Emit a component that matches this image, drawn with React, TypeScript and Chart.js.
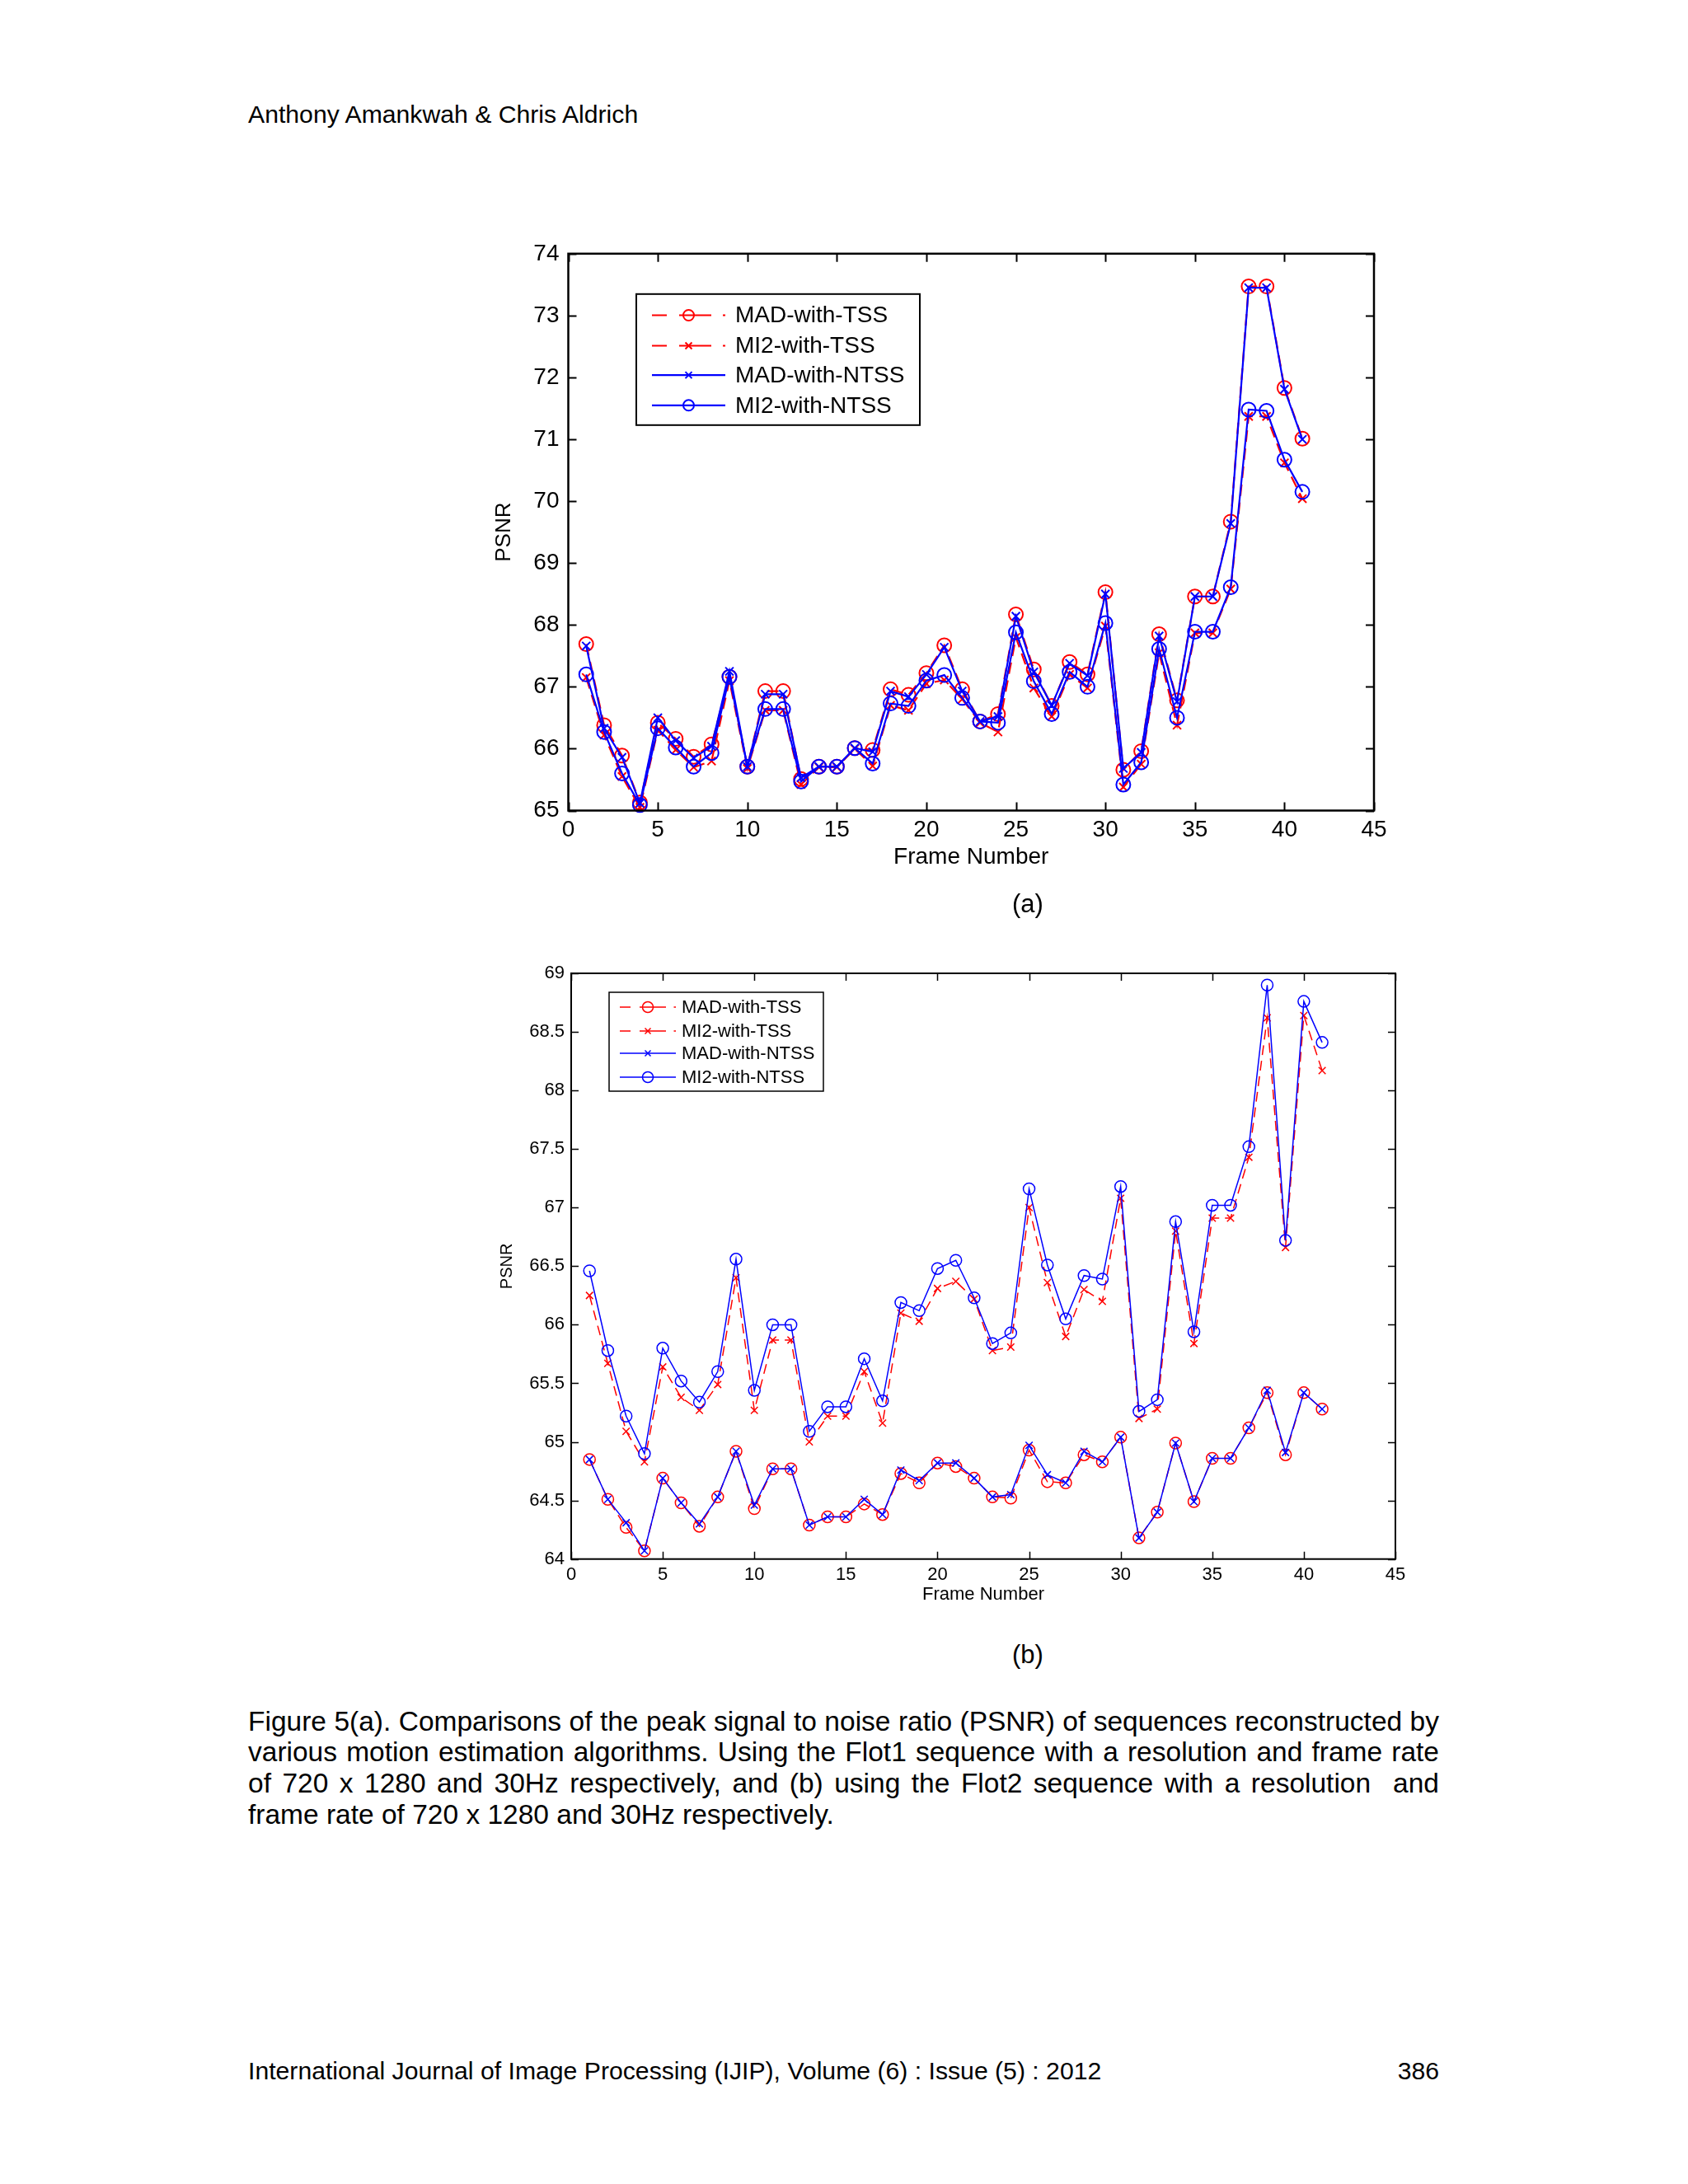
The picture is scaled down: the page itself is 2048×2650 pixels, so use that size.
import React, { useEffect, useRef } from 'react';
import { Chart, registerables } from 'chart.js';

Chart.register(...registerables);

// ---------------- data ----------------
const FRAMES = [1, 2, 3, 4, 5, 6, 7, 8, 9, 10, 11, 12, 13, 14, 15, 16, 17, 18, 19, 20, 21, 22, 23, 24, 25, 26, 27, 28, 29, 30, 31, 32, 33, 34, 35, 36, 37, 38, 39, 40, 41];
const SERIES_NAMES = ['MAD-with-TSS', 'MI2-with-TSS', 'MAD-with-NTSS', 'MI2-with-NTSS'];
const X_TICKS = [0, 5, 10, 15, 20, 25, 30, 35, 40, 45];
const A_Y_TICKS = [65, 66, 67, 68, 69, 70, 71, 72, 73, 74];
const B_Y_TICKS = [64, 64.5, 65, 65.5, 66, 66.5, 67, 67.5, 68, 68.5, 69];
const X_TITLE = 'Frame Number';
const Y_TITLE = 'PSNR';

// (a) Flot1
const A_MAD_TSS = [67.69, 66.38, 65.89, 65.13, 66.42, 66.16, 65.87, 66.07, 67.16, 65.71, 66.93, 66.93, 65.51, 65.71, 65.71, 66.01, 65.98, 66.96, 66.87, 67.22, 67.67, 66.96, 66.44, 66.56, 68.17, 67.28, 66.69, 67.40, 67.20, 68.53, 65.66, 65.96, 67.85, 66.78, 68.46, 68.46, 69.67, 73.47, 73.47, 71.83, 71.01];
const A_MI2_TSS = [67.15, 66.22, 65.55, 65.05, 66.30, 65.98, 65.70, 65.80, 67.10, 65.68, 66.62, 66.62, 65.42, 65.70, 65.70, 66.00, 65.72, 66.70, 66.62, 67.05, 67.11, 66.80, 66.42, 66.27, 67.80, 66.98, 66.52, 67.20, 66.98, 67.98, 65.38, 65.75, 67.55, 66.38, 67.87, 67.87, 68.58, 71.37, 71.37, 70.62, 70.04];
const A_MAD_NTSS = [67.66, 66.33, 65.86, 65.12, 66.50, 66.13, 65.85, 66.04, 67.25, 65.71, 66.88, 66.88, 65.53, 65.71, 65.71, 66.01, 65.95, 66.93, 66.84, 67.20, 67.64, 66.93, 66.44, 66.52, 68.14, 67.24, 66.70, 67.38, 67.18, 68.50, 65.68, 65.94, 67.82, 66.76, 68.46, 68.46, 69.64, 73.45, 73.45, 71.81, 71.00];
const A_MI2_NTSS = [67.20, 66.27, 65.60, 65.09, 66.33, 66.02, 65.71, 65.93, 67.16, 65.71, 66.64, 66.64, 65.47, 65.71, 65.71, 66.01, 65.76, 66.73, 66.69, 67.10, 67.19, 66.82, 66.44, 66.42, 67.88, 67.09, 66.56, 67.24, 67.00, 68.03, 65.42, 65.78, 67.61, 66.50, 67.89, 67.89, 68.61, 71.48, 71.46, 70.67, 70.15];

// (b) Flot2
const B_MAD_TSS = [64.85, 64.51, 64.27, 64.07, 64.69, 64.48, 64.28, 64.53, 64.92, 64.43, 64.77, 64.77, 64.29, 64.36, 64.36, 64.47, 64.38, 64.73, 64.65, 64.82, 64.79, 64.69, 64.53, 64.52, 64.93, 64.66, 64.65, 64.89, 64.83, 65.04, 64.18, 64.40, 64.99, 64.49, 64.86, 64.86, 65.12, 65.42, 64.89, 65.42, 65.28];
const B_MI2_TSS = [66.25, 65.67, 65.09, 64.83, 65.64, 65.38, 65.27, 65.49, 66.40, 65.27, 65.87, 65.87, 65.00, 65.22, 65.22, 65.60, 65.16, 66.10, 66.03, 66.31, 66.37, 66.22, 65.78, 65.81, 67.00, 66.36, 65.90, 66.30, 66.20, 67.08, 65.20, 65.28, 66.80, 65.84, 66.91, 66.91, 67.43, 68.62, 66.66, 68.64, 68.17];
const B_MAD_NTSS = [64.85, 64.51, 64.31, 64.07, 64.69, 64.48, 64.30, 64.53, 64.92, 64.46, 64.77, 64.77, 64.29, 64.36, 64.36, 64.51, 64.38, 64.76, 64.67, 64.82, 64.82, 64.69, 64.53, 64.55, 64.97, 64.72, 64.65, 64.92, 64.83, 65.04, 64.18, 64.40, 64.99, 64.49, 64.86, 64.86, 65.12, 65.44, 64.91, 65.42, 65.28];
const B_MI2_NTSS = [66.46, 65.78, 65.22, 64.90, 65.80, 65.52, 65.34, 65.60, 66.56, 65.44, 66.00, 66.00, 65.09, 65.30, 65.30, 65.71, 65.35, 66.19, 66.12, 66.48, 66.55, 66.23, 65.84, 65.93, 67.16, 66.51, 66.05, 66.42, 66.39, 67.18, 65.26, 65.36, 66.88, 65.94, 67.02, 67.02, 67.52, 68.90, 66.72, 68.76, 68.41];

const FONT = '"Liberation Sans", Arial, Helvetica, sans-serif';
const RED = '#ff0000';
const BLUE = '#0000ff';

// ---------------- plugin: MATLAB-like box, inward ticks, legend ----------------
const matlabPlugin = {
  id: 'matlabBox',
  afterDraw(chart: any, _args: any, opts: any) {
    const { ctx, chartArea } = chart;
    const { left, top, right, bottom } = chartArea;
    const xs = chart.scales.x;
    const ys = chart.scales.y;
    ctx.save();
    ctx.setLineDash([]);
    ctx.strokeStyle = '#000';
    ctx.lineWidth = opts.tickWidth;
    const tl = opts.tickLen;
    ctx.beginPath();
    xs.ticks.forEach((t: any) => {
      const px = Math.round(xs.getPixelForValue(t.value)) + 0.5;
      ctx.moveTo(px, bottom);
      ctx.lineTo(px, bottom - tl);
      ctx.moveTo(px, top);
      ctx.lineTo(px, top + tl);
    });
    ys.ticks.forEach((t: any) => {
      const py = Math.round(ys.getPixelForValue(t.value)) + 0.5;
      ctx.moveTo(left, py);
      ctx.lineTo(left + tl, py);
      ctx.moveTo(right, py);
      ctx.lineTo(right - tl, py);
    });
    ctx.stroke();
    ctx.lineWidth = opts.frameWidth;
    ctx.strokeRect(left, top, right - left, bottom - top);

    // legend
    const lg = opts.legend;
    const bx0 = left + lg.x0;
    const by0 = top + lg.y0;
    ctx.fillStyle = '#fff';
    ctx.fillRect(bx0, by0, lg.x1 - lg.x0, lg.y1 - lg.y0);
    ctx.lineWidth = lg.boxWidth;
    ctx.strokeStyle = '#000';
    ctx.strokeRect(bx0, by0, lg.x1 - lg.x0, lg.y1 - lg.y0);
    chart.data.datasets.forEach((ds: any, i: number) => {
      const ry = top + lg.rows[i];
      const lx0 = left + lg.lineX0;
      const lx1 = left + lg.lineX1;
      ctx.strokeStyle = ds.borderColor;
      ctx.lineWidth = ds.borderWidth;
      ctx.setLineDash(lg.dash && ds.borderDash && ds.borderDash.length ? lg.dash : []);
      ctx.beginPath();
      ctx.moveTo(lx0, ry);
      ctx.lineTo(lx1, ry);
      ctx.stroke();
      ctx.setLineDash([]);
      const cx = (lx0 + lx1) / 2;
      ctx.lineWidth = ds.pointBorderWidth;
      ctx.strokeStyle = ds.pointBorderColor;
      ctx.beginPath();
      if (ds.pointStyle === 'circle') {
        ctx.arc(cx, ry, lg.markerR, 0, Math.PI * 2);
      } else {
        const r = lg.markerX;
        ctx.moveTo(cx - r, ry - r);
        ctx.lineTo(cx + r, ry + r);
        ctx.moveTo(cx - r, ry + r);
        ctx.lineTo(cx + r, ry - r);
      }
      ctx.stroke();
      ctx.fillStyle = '#000';
      ctx.font = `${lg.fontSize}px ${FONT}`;
      ctx.textBaseline = 'middle';
      ctx.textAlign = 'left';
      ctx.fillText(ds.label, left + lg.textX, ry + 1);
    });
    ctx.restore();
  },
};

type Spec = {
  width: number;
  height: number;
  series: number[][];
  yTicks: number[];
  pad: { left: number; top: number; right: number; bottom: number };
  yWidth: number;
  xHeight: number;
  tickFont: number;
  xTitleFont: number;
  yTitleFont: number;
  xTickPad: number;
  yTickPad: number;
  lineWidth: number;
  dash: number[];
  circleR: number;
  crossR: number;
  markerWidth: number;
  box: any;
};

function buildConfig(spec: Spec): any {
  const styles = [
    { color: RED, dash: spec.dash, point: 'circle', radius: spec.circleR, order: 1 },
    { color: RED, dash: spec.dash, point: 'crossRot', radius: spec.crossR, order: 1 },
    { color: BLUE, dash: [], point: 'crossRot', radius: spec.crossR, order: 0 },
    { color: BLUE, dash: [], point: 'circle', radius: spec.circleR, order: 0 },
  ];
  const datasets = spec.series.map((vals, i) => ({
    label: SERIES_NAMES[i],
    data: FRAMES.map((f, k) => ({ x: f, y: vals[k] })),
    borderColor: styles[i].color,
    borderWidth: spec.lineWidth,
    borderDash: styles[i].dash,
    pointStyle: styles[i].point,
    pointRadius: styles[i].radius,
    pointBorderColor: styles[i].color,
    pointBackgroundColor: 'rgba(0,0,0,0)',
    pointBorderWidth: spec.markerWidth,
    tension: 0,
    fill: false,
    clip: false,
    order: styles[i].order,
  }));
  const yMin = spec.yTicks[0];
  const yMax = spec.yTicks[spec.yTicks.length - 1];
  return {
    type: 'line',
    data: { datasets },
    options: {
      animation: false,
      responsive: false,
      devicePixelRatio: 1,
      events: [],
      layout: { padding: spec.pad },
      plugins: {
        legend: { display: false },
        tooltip: { enabled: false },
        matlabBox: spec.box,
      },
      scales: {
        x: {
          type: 'linear',
          min: X_TICKS[0],
          max: X_TICKS[X_TICKS.length - 1],
          afterBuildTicks: (s: any) => {
            s.ticks = X_TICKS.map((v) => ({ value: v }));
          },
          afterFit: (s: any) => {
            s.height = spec.xHeight;
          },
          grid: { display: false, drawTicks: false },
          border: { display: false },
          ticks: {
            color: '#000',
            font: { family: FONT, size: spec.tickFont },
            padding: spec.xTickPad,
            maxRotation: 0,
            autoSkip: false,
            callback: (v: any) => String(v),
          },
          title: {
            display: true,
            text: X_TITLE,
            color: '#000',
            font: { family: FONT, size: spec.xTitleFont },
            padding: 0,
          },
        },
        y: {
          type: 'linear',
          min: yMin,
          max: yMax,
          afterBuildTicks: (s: any) => {
            s.ticks = spec.yTicks.map((v) => ({ value: v }));
          },
          afterFit: (s: any) => {
            s.width = spec.yWidth;
          },
          grid: { display: false, drawTicks: false },
          border: { display: false },
          ticks: {
            color: '#000',
            font: { family: FONT, size: spec.tickFont },
            padding: spec.yTickPad,
            autoSkip: false,
            callback: (v: any) => String(v),
          },
          title: {
            display: true,
            text: Y_TITLE,
            color: '#000',
            font: { family: FONT, size: spec.yTitleFont },
            padding: 0,
          },
        },
      },
    },
    plugins: [matlabPlugin],
  };
}

const SPEC_A: Spec = {
  width: 1140,
  height: 800,
  series: [A_MAD_TSS, A_MI2_TSS, A_MAD_NTSS, A_MI2_NTSS],
  yTicks: A_Y_TICKS,
  pad: { left: 36.4, top: 26, right: 33, bottom: 23.2 },
  yWidth: 93.1,
  xHeight: 73.3,
  tickFont: 28,
  xTitleFont: 28,
  yTitleFont: 26,
  xTickPad: 7,
  yTickPad: 11,
  lineWidth: 2.2,
  dash: [14, 8],
  circleR: 8.5,
  crossR: 7,
  markerWidth: 2,
  box: {
    tickLen: 10,
    tickWidth: 2,
    frameWidth: 2.5,
    legend: {
      x0: 82.5, y0: 49, x1: 426.5, y1: 208,
      rows: [74.7, 111.7, 147.3, 184],
      lineX0: 101.5, lineX1: 190.5, textX: 202.5,
      fontSize: 28, boxWidth: 2, markerR: 6.5, markerX: 4, dash: [18, 15, 39, 14],
    },
  },
};

const SPEC_B: Spec = {
  width: 1180,
  height: 820,
  series: [B_MAD_TSS, B_MI2_TSS, B_MAD_NTSS, B_MI2_NTSS],
  yTicks: B_Y_TICKS,
  pad: { left: 43, top: 31, right: 47, bottom: 21.8 },
  yWidth: 90,
  xHeight: 56.5,
  tickFont: 22,
  xTitleFont: 22,
  yTitleFont: 20,
  xTickPad: 6,
  yTickPad: 8,
  lineWidth: 1.5,
  dash: [12, 7],
  circleR: 7,
  crossR: 6,
  markerWidth: 1.5,
  box: {
    tickLen: 9,
    tickWidth: 1.5,
    frameWidth: 2,
    legend: {
      x0: 46, y0: 23, x1: 306, y1: 143,
      rows: [41, 70, 97, 126],
      lineX0: 59, lineX1: 127, textX: 134,
      fontSize: 22, boxWidth: 1.5, markerR: 6.5, markerX: 3.5, dash: [13, 11, 32, 9.5],
    },
  },
};

function ChartCanvas({ spec, left, top }: { spec: Spec; left: number; top: number }) {
  const ref = useRef<HTMLCanvasElement | null>(null);
  useEffect(() => {
    if (!ref.current) return;
    const chart = new Chart(ref.current, buildConfig(spec));
    return () => chart.destroy();
  }, [spec]);
  return (
    <canvas
      ref={ref}
      width={spec.width}
      height={spec.height}
      style={{ position: 'absolute', left, top, width: spec.width, height: spec.height }}
    />
  );
}

const CAPTION_LINES = [
  'Figure 5(a). Comparisons of the peak signal to noise ratio (PSNR) of sequences reconstructed by',
  'various motion estimation algorithms. Using the Flot1 sequence with a resolution and frame rate',
  'of 720 x 1280 and 30Hz respectively, and (b) using the Flot2 sequence with a resolution  and',
  'frame rate of 720 x 1280 and 30Hz respectively.',
];

export default function App() {
  useEffect(() => {
    document.body.style.margin = '0';
  }, []);
  const text: React.CSSProperties = { position: 'absolute', fontFamily: FONT, color: '#000', whiteSpace: 'nowrap' };
  return (
    <div style={{ position: 'relative', width: 2048, height: 2650, background: '#fff', overflow: 'hidden', fontFamily: FONT }}>
      <div style={{ ...text, left: 301, top: 122.6, fontSize: 30.2, lineHeight: '32px' }}>Anthony Amankwah &amp; Chris Aldrich</div>

      <ChartCanvas spec={SPEC_A} left={560} top={280} />
      <div style={{ ...text, left: 1147, width: 200, textAlign: 'center', top: 1080.7, fontSize: 31, lineHeight: '32px' }}>(a)</div>

      <ChartCanvas spec={SPEC_B} left={560} top={1150} />
      <div style={{ ...text, left: 1147, width: 200, textAlign: 'center', top: 1992, fontSize: 31, lineHeight: '32px' }}>(b)</div>

      {CAPTION_LINES.map((ln, i) => (
        <div
          key={i}
          style={{
            ...text,
            left: 301,
            width: 1445,
            top: 2069.7 + i * 37.7,
            fontSize: 33.5,
            lineHeight: '37.7px',
            textAlign: i < CAPTION_LINES.length - 1 ? 'justify' : 'left',
            textAlignLast: i < CAPTION_LINES.length - 1 ? 'justify' : 'left',
            whiteSpace: 'pre',
          } as React.CSSProperties}
        >
          {ln}
        </div>
      ))}

      <div style={{ ...text, left: 301, top: 2497, fontSize: 30.2, lineHeight: '32px' }}>
        International Journal of Image Processing (IJIP), Volume (6) : Issue (5) : 2012
      </div>
      <div style={{ ...text, right: 302, top: 2497, fontSize: 30.2, lineHeight: '32px', textAlign: 'right' }}>386</div>
    </div>
  );
}
